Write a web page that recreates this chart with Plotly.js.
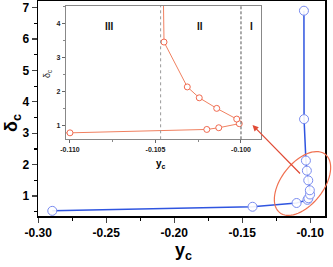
<!DOCTYPE html>
<html><head><meta charset="utf-8">
<script src="https://cdn.plot.ly/plotly-3.0.1.min.js"></script>
<style>html,body{margin:0;padding:0;background:#fff}#chart{width:333px;height:267px}</style>
</head><body><div id="chart"></div>
<script>
// data
const yc    = [-0.2897, -0.1424, -0.1100, -0.1020, -0.1013, -0.1001, -0.10025, -0.10142, -0.10244, -0.10314, -0.1045, -0.1046];
const delta = [0.53, 0.66, 0.78, 0.88, 0.93, 1.05, 1.185, 1.50, 1.81, 2.13, 3.45, 6.90];
const mainXTicks = [-0.30, -0.25, -0.20, -0.15, -0.10];
const mainXLabels = ['-0.30', '-0.25', '-0.20', '-0.15', '-0.10'];
const mainYTicks = [1, 2, 3, 4, 5, 6, 7];
const insetXTicks = [-0.110, -0.105, -0.100];
const insetXLabels = ['-0.110', '-0.105', '-0.100'];
const insetYTicks = [1, 2, 3, 4];
const regionBounds = [-0.1047, -0.100];
const regionLabels = ['III', 'II', 'I'];
const regionLabelX = [-0.10766, -0.1024, -0.09936];

const W = 333, H = 267, L = 38, R = 8, T = 1, B = 51;
const pw = W - L - R, ph = H - T - B;
const px = x => (x - L) / pw;
const py = y => (H - B - y) / ph;

// ellipse outline (paper coords)
function ellipsePath(cx, cy, a, b, angDeg) {
  const th = angDeg * Math.PI / 180;
  let d = '';
  for (let i = 0; i <= 72; i++) {
    const t = i / 72 * 2 * Math.PI;
    const ex = a * Math.cos(t), ey = b * Math.sin(t);
    const X = cx + ex * Math.cos(th) - ey * Math.sin(th);
    const Y = cy - (ex * Math.sin(th) + ey * Math.cos(th));
    d += (i === 0 ? 'M' : 'L') + px(X).toFixed(4) + ',' + py(Y).toFixed(4);
  }
  return d + 'Z';
}

const font = 'Liberation Sans, Arial, sans-serif';

const traces = [
  { x: yc, y: delta, xaxis: 'x', yaxis: 'y', mode: 'lines+markers', type: 'scatter',
    line: { color: '#2f55e0', width: 1.5 },
    marker: { symbol: 'circle', size: 9, color: 'rgba(255,255,255,0.9)', line: { color: '#7a8cf0', width: 1 } },
    cliponaxis: false, hoverinfo: 'skip' },
  { x: yc, y: delta, xaxis: 'x2', yaxis: 'y2', mode: 'lines+markers', type: 'scatter',
    line: { color: '#f08060', width: 1 },
    marker: { symbol: 'circle', size: 6, color: 'white', line: { color: '#f06a50', width: 1 } },
    hoverinfo: 'skip' }
];

const ann = (o) => Object.assign({ xref: 'paper', yref: 'paper', showarrow: false, xanchor: 'center', yanchor: 'middle' }, o);

const layout = {
  width: W, height: H, margin: { l: L, r: R, t: T, b: B },
  paper_bgcolor: 'white', plot_bgcolor: 'white', showlegend: false,
  font: { family: font, color: '#000' },
  xaxis: { domain: [0, 1], range: [-0.3002, -0.0891], tickvals: mainXTicks, ticktext: mainXLabels,
    ticks: 'outside', ticklen: 5, tickwidth: 1.2, showgrid: false, zeroline: false,
    showline: true, mirror: true, linecolor: '#000', linewidth: 1.5,
    tickfont: { size: 12, family: font, weight: 'bold' },
    minor: { dtick: 0.025, tick0: -0.3, ticks: 'outside', ticklen: 3, tickcolor: '#000' } },
  yaxis: { domain: [0, 1], range: [0.366, 7.21], tickvals: mainYTicks,
    ticks: 'outside', ticklen: 5, tickwidth: 1.2, showgrid: false, zeroline: false,
    showline: true, mirror: true, linecolor: '#000', linewidth: 1.5,
    tickfont: { size: 12, family: font, weight: 'bold' },
    minor: { dtick: 0.5, tick0: 0, ticks: 'outside', ticklen: 3, tickcolor: '#000' } },
  xaxis2: { domain: [px(65.7), px(261)], anchor: 'y2', range: [-0.11025, -0.09883],
    tickvals: insetXTicks, ticktext: insetXLabels, ticks: 'outside', ticklen: 3, tickwidth: 1,
    tickcolor: '#666', showgrid: false, zeroline: false, showline: true, mirror: true,
    linecolor: '#888', linewidth: 1, tickfont: { size: 7, family: font, weight: 'bold', color: '#222' },
    minor: { dtick: 0.0025, tick0: -0.11, ticks: 'outside', ticklen: 2, tickcolor: '#888' } },
  yaxis2: { domain: [py(139.3), py(6)], anchor: 'x2', range: [0.59, 4.51], tickvals: insetYTicks,
    ticks: 'outside', ticklen: 3, tickwidth: 1, tickcolor: '#666', showgrid: false, zeroline: false,
    showline: true, mirror: true, linecolor: '#888', linewidth: 1,
    tickfont: { size: 7, family: font, weight: 'bold', color: '#222' },
    minor: { dtick: 0.5, tick0: 0, ticks: 'outside', ticklen: 2, tickcolor: '#888' } },
  shapes: [
    { type: 'line', xref: 'x2', yref: 'y2 domain', x0: regionBounds[0], x1: regionBounds[0], y0: 0, y1: 1,
      line: { color: '#999', width: 1, dash: 'dot' } },
    { type: 'line', xref: 'x2', yref: 'y2 domain', x0: regionBounds[1], x1: regionBounds[1], y0: 0, y1: 1,
      line: { color: '#555', width: 1, dash: '3px,2px' } },
    { type: 'path', xref: 'paper', yref: 'paper', path: ellipsePath(302.5, 183.5, 37, 21, 52),
      line: { color: '#f07050', width: 1.2 }, fillcolor: 'rgba(0,0,0,0)' }
  ],
  annotations: [
    ...regionLabels.map((t, i) => ({ text: t, x: regionLabelX[i], y: 3.9, xref: 'x2', yref: 'y2',
      showarrow: false, font: { size: 10, family: font, weight: 'bold', color: '#111' } })),
    ann({ text: 'y<sub>c</sub>', x: px(183), y: py(251), font: { size: 18, family: font, weight: 'bold' } }),
    ann({ text: 'δ<sub>c</sub>', x: px(12), y: py(123), textangle: -90, font: { size: 18, family: font, weight: 'bold' } }),
    ann({ text: 'y<sub>c</sub>', x: px(161), y: py(164), font: { size: 10, family: font, weight: 'bold' } }),
    ann({ text: 'δ<sub>c</sub>', x: px(47), y: py(74), textangle: -90, font: { size: 9, family: font, color: '#222' } }),
    { text: '', xref: 'paper', yref: 'paper', x: px(252.5), y: py(125), axref: 'pixel', ayref: 'pixel',
      ax: 49, ay: 50, showarrow: true, arrowhead: 2, arrowsize: 1, arrowwidth: 1.2, arrowcolor: '#e04a35' }
  ]
};

Plotly.newPlot('chart', traces, layout, { staticPlot: true, displayModeBar: false });
</script></body></html>
